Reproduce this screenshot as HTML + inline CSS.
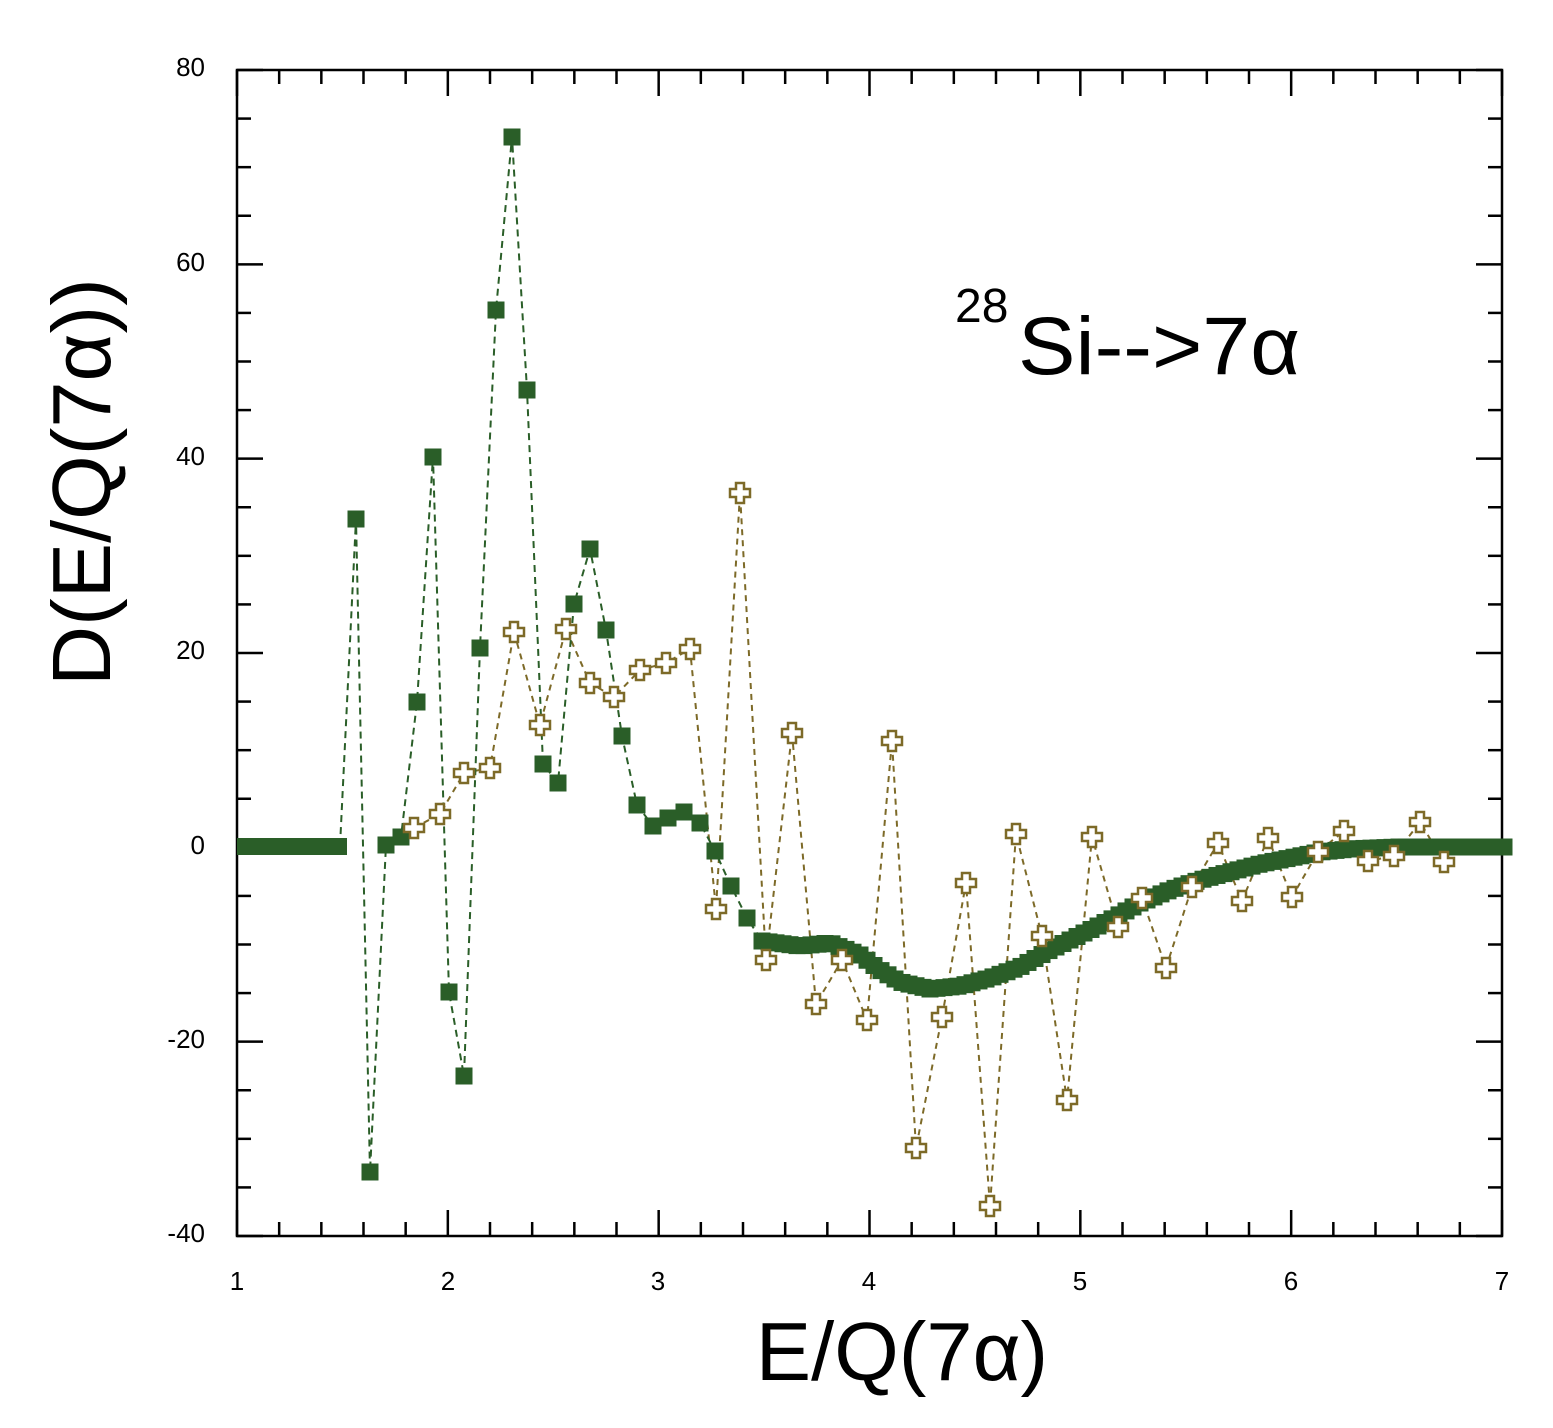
<!DOCTYPE html>
<html><head><style>
html,body{margin:0;padding:0;background:#fff;}
svg{display:block;}
text{font-family:"Liberation Sans",sans-serif;fill:#000;}
</style></head><body>
<svg id="s" width="1553" height="1428" viewBox="0 0 1553 1428" xmlns="http://www.w3.org/2000/svg">
<g id="ticks" stroke="#000" stroke-width="2.5"></g>
<rect x="237" y="70" width="1265" height="1166" fill="none" stroke="#000" stroke-width="2.5"/>
<g font-size="26" text-anchor="end">
<text x="205" y="76">80</text>
<text x="205" y="271">60</text>
<text x="205" y="465">40</text>
<text x="205" y="659">20</text>
<text x="205" y="854">0</text>
<text x="205" y="1048">-20</text>
<text x="205" y="1242">-40</text>
</g>
<g font-size="26" text-anchor="middle">
<text x="237" y="1290">1</text>
<text x="448" y="1290">2</text>
<text x="658" y="1290">3</text>
<text x="869" y="1290">4</text>
<text x="1080" y="1290">5</text>
<text x="1291" y="1290">6</text>
<text x="1502" y="1290">7</text>
</g>
<text x="902" y="1380" font-size="83" text-anchor="middle">E/Q(7α)</text>
<text transform="translate(110,482) rotate(-90)" font-size="83" text-anchor="middle">D(E/Q(7α))</text>
<text x="955" y="322" font-size="48">28</text>
<text x="1018" y="374" font-size="82" textLength="282" lengthAdjust="spacingAndGlyphs">Si--&gt;7α</text>
<g id="data"></g>
</svg>
<script>
const NS="http://www.w3.org/2000/svg";
const tk=document.getElementById('ticks');
function ln(g,x1,y1,x2,y2,a){const l=document.createElementNS(NS,'line');l.setAttribute('x1',x1);l.setAttribute('y1',y1);l.setAttribute('x2',x2);l.setAttribute('y2',y2);for(const k in a)l.setAttribute(k,a[k]);g.appendChild(l);return l;}
for(let i=0;i<=30;i++){const x=237+i*1265/30;const L=i%5==0?26:14;
 ln(tk,x,1236,x,1236-L);ln(tk,x,70,x,70+L);}
for(let i=0;i<=24;i++){const y=70+i*1166/24;const L=i%4==0?26:14;
 ln(tk,237,y,237+L,y);ln(tk,1502,y,1502-L,y);}
const d=document.getElementById('data');
const G="#2a5e28",O="#7d6a28";
const cr=[[414,828],[440,814],[464,773],[490,768],[514,632],[540,725],[566,629],[590,683],[614,697],[640,670],[666,663],[690,649],[716,909],[740,493],[766,960],[792,733],[816,1004],[842,960],[867,1020],[892,741],[916,1148],[942,1017],[966,883],[990,1206],[1016,834],[1042,936],[1067,1100],[1092,837],[1118,927],[1142,898],[1166,968],[1192,887],[1218,843],[1242,901],[1268,838],[1292,897],[1318,852],[1344,831],[1368,861],[1394,856],[1420,822],[1444,862]];
const sq=[[340,846],[356,519],[370,1172],[386,845],[401,837],[417,702],[433,457],[449,992],[464,1076],[480,648],[496,310],[512,137],[527,390],[543,764],[558,783],[574,604],[590,549],[606,630],[622,736],[637,805],[653,826],[668,818],[684,812],[700,823],[715,851],[731,886],[747,918],[762,941]];
const curve=[[762,941],[800,946],[830,943],[860,955],[880,970],[900,982],[930,989],[960,986],[990,978],[1020,967],[1050,950],[1080,935],[1110,920],[1140,903],[1170,890],[1200,880],[1230,872],[1260,864],[1290,858],[1320,852],[1350,849],[1400,847],[1502,847]];
function pl(pts,c,dash,w){const p=document.createElementNS(NS,'polyline');p.setAttribute('points',pts.map(a=>a.join(',')).join(' '));p.setAttribute('fill','none');p.setAttribute('stroke',c);p.setAttribute('stroke-width',w);p.setAttribute('stroke-dasharray',dash);d.appendChild(p);}
pl(cr,O,"6,5",2);
pl(sq,G,"7,5",2);
function interp(x){for(let i=0;i<curve.length-1;i++){const a=curve[i],b=curve[i+1];if(x>=a[0]&&x<=b[0])return a[1]+(b[1]-a[1])*(x-a[0])/(b[0]-a[0]);}return 847;}
// flat band
const r=document.createElementNS(NS,'rect');r.setAttribute('x',237);r.setAttribute('y',838);r.setAttribute('width',110);r.setAttribute('height',17);r.setAttribute('fill',G);d.appendChild(r);
function sqr(x,y,s){const e=document.createElementNS(NS,'rect');e.setAttribute('x',x-s/2);e.setAttribute('y',y-s/2);e.setAttribute('width',s);e.setAttribute('height',s);e.setAttribute('fill',G);d.appendChild(e);}
for(let x=762;x<=1506;x+=7)sqr(x,interp(x),17);
sq.slice(1).forEach(p=>sqr(p[0],p[1],17));
cr.forEach(([x,y])=>{const p=document.createElementNS(NS,'path');const a=4,b=10;
p.setAttribute('d',`M${x-a},${y-b}H${x+a}V${y-a}H${x+b}V${y+a}H${x+a}V${y+b}H${x-a}V${y+a}H${x-b}V${y-a}H${x-a}Z`);
p.setAttribute('fill','#fff');p.setAttribute('stroke',O);p.setAttribute('stroke-width',2.5);d.appendChild(p);});
</script>
</body></html>
